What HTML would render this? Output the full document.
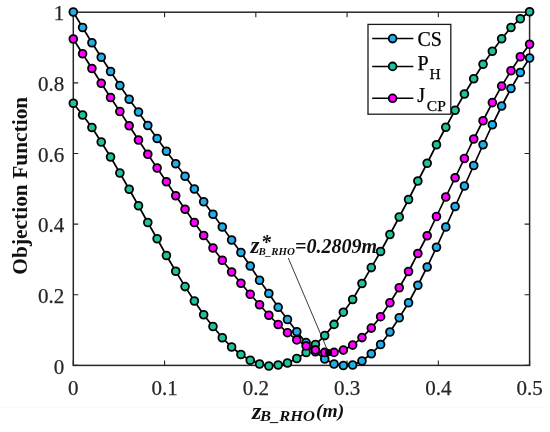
<!DOCTYPE html>
<html><head><meta charset="utf-8"><title>Objection Function</title>
<style>html,body{margin:0;padding:0;background:#fff}body{width:550px;height:432px;overflow:hidden;position:relative}</style></head>
<body>
<svg width="550" height="432" viewBox="0 0 550 432" style="position:absolute;left:0;top:0">
<rect width="550" height="432" fill="#fff"/>
<rect x="0" y="407.3" width="550" height="1" fill="#fafafa"/>
<rect x="73.3" y="12.2" width="456.3" height="353.2" fill="none" stroke="#262626" stroke-width="1.5"/>
<path d="M73.30 365.4v-5M73.30 12.2v5M73.3 365.40h5M529.6 365.40h-5M164.56 365.4v-5M164.56 12.2v5M73.3 294.76h5M529.6 294.76h-5M255.82 365.4v-5M255.82 12.2v5M73.3 224.12h5M529.6 224.12h-5M347.08 365.4v-5M347.08 12.2v5M73.3 153.48h5M529.6 153.48h-5M438.34 365.4v-5M438.34 12.2v5M73.3 82.84h5M529.6 82.84h-5M529.60 365.4v-5M529.60 12.2v5M73.3 12.20h5M529.6 12.20h-5" stroke="#262626" stroke-width="1.1" fill="none"/>
<g font-family="'Liberation Serif', serif" font-size="21" fill="#262626" stroke="#262626" stroke-width="0.25">
<text x="73.30" y="395" text-anchor="middle">0</text>
<text x="164.56" y="395" text-anchor="middle">0.1</text>
<text x="255.82" y="395" text-anchor="middle">0.2</text>
<text x="347.08" y="395" text-anchor="middle">0.3</text>
<text x="438.34" y="395" text-anchor="middle">0.4</text>
<text x="529.60" y="395" text-anchor="middle">0.5</text>
<text x="64.2" y="373.50" text-anchor="end">0</text>
<text x="64.2" y="302.86" text-anchor="end">0.2</text>
<text x="64.2" y="232.22" text-anchor="end">0.4</text>
<text x="64.2" y="161.58" text-anchor="end">0.6</text>
<text x="64.2" y="90.94" text-anchor="end">0.8</text>
<text x="64.2" y="20.30" text-anchor="end">1</text>
</g>
<text transform="translate(26.9 185.7) rotate(-90)" text-anchor="middle" textLength="178" lengthAdjust="spacingAndGlyphs" font-family="'Liberation Serif', serif" font-weight="bold" font-size="20" fill="#111">Objection Function</text>
<g font-family="'Liberation Serif', serif" font-weight="bold" font-style="italic" fill="#111"><text x="252" y="419" font-size="24">z</text><text x="260" y="421" font-size="14.8" textLength="55" lengthAdjust="spacingAndGlyphs">B_RHO</text><text x="316" y="416.5" font-size="19.5">(m)</text></g>
<polyline points="73.30,12.00 82.61,27.50 91.92,42.75 101.24,57.25 110.55,71.50 119.86,85.50 129.17,99.25 138.49,112.00 147.80,125.50 157.11,138.50 166.42,151.25 175.73,163.75 185.05,176.25 194.36,189.00 203.67,201.75 212.98,214.25 222.30,227.00 231.61,240.00 240.92,252.50 250.23,266.00 259.54,280.25 268.86,293.50 278.17,307.30 287.48,319.50 296.79,331.75 306.11,342.60 315.42,351.80 324.73,359.00 334.04,364.00 343.36,365.50 352.67,365.00 361.98,361.00 371.29,353.75 380.60,344.50 389.92,332.00 399.23,317.75 408.54,302.75 417.85,285.25 427.17,267.00 436.48,247.25 445.79,227.00 455.10,206.50 464.41,186.00 473.73,165.50 483.04,144.75 492.35,124.75 501.66,106.00 510.98,88.50 520.29,72.50 529.60,58.00" fill="none" stroke="#000" stroke-width="1.7"/>
<circle cx="73.30" cy="12.00" r="3.9" fill="#22aeea" stroke="#000" stroke-width="1.8"/><circle cx="82.61" cy="27.50" r="3.9" fill="#22aeea" stroke="#000" stroke-width="1.8"/><circle cx="91.92" cy="42.75" r="3.9" fill="#22aeea" stroke="#000" stroke-width="1.8"/><circle cx="101.24" cy="57.25" r="3.9" fill="#22aeea" stroke="#000" stroke-width="1.8"/><circle cx="110.55" cy="71.50" r="3.9" fill="#22aeea" stroke="#000" stroke-width="1.8"/><circle cx="119.86" cy="85.50" r="3.9" fill="#22aeea" stroke="#000" stroke-width="1.8"/><circle cx="129.17" cy="99.25" r="3.9" fill="#22aeea" stroke="#000" stroke-width="1.8"/><circle cx="138.49" cy="112.00" r="3.9" fill="#22aeea" stroke="#000" stroke-width="1.8"/><circle cx="147.80" cy="125.50" r="3.9" fill="#22aeea" stroke="#000" stroke-width="1.8"/><circle cx="157.11" cy="138.50" r="3.9" fill="#22aeea" stroke="#000" stroke-width="1.8"/><circle cx="166.42" cy="151.25" r="3.9" fill="#22aeea" stroke="#000" stroke-width="1.8"/><circle cx="175.73" cy="163.75" r="3.9" fill="#22aeea" stroke="#000" stroke-width="1.8"/><circle cx="185.05" cy="176.25" r="3.9" fill="#22aeea" stroke="#000" stroke-width="1.8"/><circle cx="194.36" cy="189.00" r="3.9" fill="#22aeea" stroke="#000" stroke-width="1.8"/><circle cx="203.67" cy="201.75" r="3.9" fill="#22aeea" stroke="#000" stroke-width="1.8"/><circle cx="212.98" cy="214.25" r="3.9" fill="#22aeea" stroke="#000" stroke-width="1.8"/><circle cx="222.30" cy="227.00" r="3.9" fill="#22aeea" stroke="#000" stroke-width="1.8"/><circle cx="231.61" cy="240.00" r="3.9" fill="#22aeea" stroke="#000" stroke-width="1.8"/><circle cx="240.92" cy="252.50" r="3.9" fill="#22aeea" stroke="#000" stroke-width="1.8"/><circle cx="250.23" cy="266.00" r="3.9" fill="#22aeea" stroke="#000" stroke-width="1.8"/><circle cx="259.54" cy="280.25" r="3.9" fill="#22aeea" stroke="#000" stroke-width="1.8"/><circle cx="268.86" cy="293.50" r="3.9" fill="#22aeea" stroke="#000" stroke-width="1.8"/><circle cx="278.17" cy="307.30" r="3.9" fill="#22aeea" stroke="#000" stroke-width="1.8"/><circle cx="287.48" cy="319.50" r="3.9" fill="#22aeea" stroke="#000" stroke-width="1.8"/><circle cx="296.79" cy="331.75" r="3.9" fill="#22aeea" stroke="#000" stroke-width="1.8"/><circle cx="306.11" cy="342.60" r="3.9" fill="#22aeea" stroke="#000" stroke-width="1.8"/><circle cx="315.42" cy="351.80" r="3.9" fill="#22aeea" stroke="#000" stroke-width="1.8"/><circle cx="324.73" cy="359.00" r="3.9" fill="#22aeea" stroke="#000" stroke-width="1.8"/><circle cx="334.04" cy="364.00" r="3.9" fill="#22aeea" stroke="#000" stroke-width="1.8"/><circle cx="343.36" cy="365.50" r="3.9" fill="#22aeea" stroke="#000" stroke-width="1.8"/><circle cx="352.67" cy="365.00" r="3.9" fill="#22aeea" stroke="#000" stroke-width="1.8"/><circle cx="361.98" cy="361.00" r="3.9" fill="#22aeea" stroke="#000" stroke-width="1.8"/><circle cx="371.29" cy="353.75" r="3.9" fill="#22aeea" stroke="#000" stroke-width="1.8"/><circle cx="380.60" cy="344.50" r="3.9" fill="#22aeea" stroke="#000" stroke-width="1.8"/><circle cx="389.92" cy="332.00" r="3.9" fill="#22aeea" stroke="#000" stroke-width="1.8"/><circle cx="399.23" cy="317.75" r="3.9" fill="#22aeea" stroke="#000" stroke-width="1.8"/><circle cx="408.54" cy="302.75" r="3.9" fill="#22aeea" stroke="#000" stroke-width="1.8"/><circle cx="417.85" cy="285.25" r="3.9" fill="#22aeea" stroke="#000" stroke-width="1.8"/><circle cx="427.17" cy="267.00" r="3.9" fill="#22aeea" stroke="#000" stroke-width="1.8"/><circle cx="436.48" cy="247.25" r="3.9" fill="#22aeea" stroke="#000" stroke-width="1.8"/><circle cx="445.79" cy="227.00" r="3.9" fill="#22aeea" stroke="#000" stroke-width="1.8"/><circle cx="455.10" cy="206.50" r="3.9" fill="#22aeea" stroke="#000" stroke-width="1.8"/><circle cx="464.41" cy="186.00" r="3.9" fill="#22aeea" stroke="#000" stroke-width="1.8"/><circle cx="473.73" cy="165.50" r="3.9" fill="#22aeea" stroke="#000" stroke-width="1.8"/><circle cx="483.04" cy="144.75" r="3.9" fill="#22aeea" stroke="#000" stroke-width="1.8"/><circle cx="492.35" cy="124.75" r="3.9" fill="#22aeea" stroke="#000" stroke-width="1.8"/><circle cx="501.66" cy="106.00" r="3.9" fill="#22aeea" stroke="#000" stroke-width="1.8"/><circle cx="510.98" cy="88.50" r="3.9" fill="#22aeea" stroke="#000" stroke-width="1.8"/><circle cx="520.29" cy="72.50" r="3.9" fill="#22aeea" stroke="#000" stroke-width="1.8"/><circle cx="529.60" cy="58.00" r="3.9" fill="#22aeea" stroke="#000" stroke-width="1.8"/>

<polyline points="73.30,103.25 82.61,115.00 91.92,127.50 101.24,142.00 110.55,157.00 119.86,173.00 129.17,189.25 138.49,205.75 147.80,222.50 157.11,238.75 166.42,255.50 175.73,271.25 185.05,286.60 194.36,301.00 203.67,314.75 212.98,326.50 222.30,337.75 231.61,347.00 240.92,354.50 250.23,360.25 259.54,364.00 268.86,366.00 278.17,365.00 287.48,363.00 296.79,358.50 306.11,352.50 315.42,344.50 324.73,335.60 334.04,324.40 343.36,312.20 352.67,299.50 361.98,283.50 371.29,267.60 380.60,251.50 389.92,234.50 399.23,217.00 408.54,199.50 417.85,181.00 427.17,163.25 436.48,144.75 445.79,127.25 455.10,110.25 464.41,94.00 473.73,78.75 483.04,64.25 492.35,51.25 501.66,38.75 510.98,27.50 520.29,18.75 529.60,11.75" fill="none" stroke="#000" stroke-width="1.7"/>
<circle cx="73.30" cy="103.25" r="3.9" fill="#1fc29b" stroke="#000" stroke-width="1.8"/><circle cx="82.61" cy="115.00" r="3.9" fill="#1fc29b" stroke="#000" stroke-width="1.8"/><circle cx="91.92" cy="127.50" r="3.9" fill="#1fc29b" stroke="#000" stroke-width="1.8"/><circle cx="101.24" cy="142.00" r="3.9" fill="#1fc29b" stroke="#000" stroke-width="1.8"/><circle cx="110.55" cy="157.00" r="3.9" fill="#1fc29b" stroke="#000" stroke-width="1.8"/><circle cx="119.86" cy="173.00" r="3.9" fill="#1fc29b" stroke="#000" stroke-width="1.8"/><circle cx="129.17" cy="189.25" r="3.9" fill="#1fc29b" stroke="#000" stroke-width="1.8"/><circle cx="138.49" cy="205.75" r="3.9" fill="#1fc29b" stroke="#000" stroke-width="1.8"/><circle cx="147.80" cy="222.50" r="3.9" fill="#1fc29b" stroke="#000" stroke-width="1.8"/><circle cx="157.11" cy="238.75" r="3.9" fill="#1fc29b" stroke="#000" stroke-width="1.8"/><circle cx="166.42" cy="255.50" r="3.9" fill="#1fc29b" stroke="#000" stroke-width="1.8"/><circle cx="175.73" cy="271.25" r="3.9" fill="#1fc29b" stroke="#000" stroke-width="1.8"/><circle cx="185.05" cy="286.60" r="3.9" fill="#1fc29b" stroke="#000" stroke-width="1.8"/><circle cx="194.36" cy="301.00" r="3.9" fill="#1fc29b" stroke="#000" stroke-width="1.8"/><circle cx="203.67" cy="314.75" r="3.9" fill="#1fc29b" stroke="#000" stroke-width="1.8"/><circle cx="212.98" cy="326.50" r="3.9" fill="#1fc29b" stroke="#000" stroke-width="1.8"/><circle cx="222.30" cy="337.75" r="3.9" fill="#1fc29b" stroke="#000" stroke-width="1.8"/><circle cx="231.61" cy="347.00" r="3.9" fill="#1fc29b" stroke="#000" stroke-width="1.8"/><circle cx="240.92" cy="354.50" r="3.9" fill="#1fc29b" stroke="#000" stroke-width="1.8"/><circle cx="250.23" cy="360.25" r="3.9" fill="#1fc29b" stroke="#000" stroke-width="1.8"/><circle cx="259.54" cy="364.00" r="3.9" fill="#1fc29b" stroke="#000" stroke-width="1.8"/><circle cx="268.86" cy="366.00" r="3.9" fill="#1fc29b" stroke="#000" stroke-width="1.8"/><circle cx="278.17" cy="365.00" r="3.9" fill="#1fc29b" stroke="#000" stroke-width="1.8"/><circle cx="287.48" cy="363.00" r="3.9" fill="#1fc29b" stroke="#000" stroke-width="1.8"/><circle cx="296.79" cy="358.50" r="3.9" fill="#1fc29b" stroke="#000" stroke-width="1.8"/><circle cx="306.11" cy="352.50" r="3.9" fill="#1fc29b" stroke="#000" stroke-width="1.8"/><circle cx="315.42" cy="344.50" r="3.9" fill="#1fc29b" stroke="#000" stroke-width="1.8"/><circle cx="324.73" cy="335.60" r="3.9" fill="#1fc29b" stroke="#000" stroke-width="1.8"/><circle cx="334.04" cy="324.40" r="3.9" fill="#1fc29b" stroke="#000" stroke-width="1.8"/><circle cx="343.36" cy="312.20" r="3.9" fill="#1fc29b" stroke="#000" stroke-width="1.8"/><circle cx="352.67" cy="299.50" r="3.9" fill="#1fc29b" stroke="#000" stroke-width="1.8"/><circle cx="361.98" cy="283.50" r="3.9" fill="#1fc29b" stroke="#000" stroke-width="1.8"/><circle cx="371.29" cy="267.60" r="3.9" fill="#1fc29b" stroke="#000" stroke-width="1.8"/><circle cx="380.60" cy="251.50" r="3.9" fill="#1fc29b" stroke="#000" stroke-width="1.8"/><circle cx="389.92" cy="234.50" r="3.9" fill="#1fc29b" stroke="#000" stroke-width="1.8"/><circle cx="399.23" cy="217.00" r="3.9" fill="#1fc29b" stroke="#000" stroke-width="1.8"/><circle cx="408.54" cy="199.50" r="3.9" fill="#1fc29b" stroke="#000" stroke-width="1.8"/><circle cx="417.85" cy="181.00" r="3.9" fill="#1fc29b" stroke="#000" stroke-width="1.8"/><circle cx="427.17" cy="163.25" r="3.9" fill="#1fc29b" stroke="#000" stroke-width="1.8"/><circle cx="436.48" cy="144.75" r="3.9" fill="#1fc29b" stroke="#000" stroke-width="1.8"/><circle cx="445.79" cy="127.25" r="3.9" fill="#1fc29b" stroke="#000" stroke-width="1.8"/><circle cx="455.10" cy="110.25" r="3.9" fill="#1fc29b" stroke="#000" stroke-width="1.8"/><circle cx="464.41" cy="94.00" r="3.9" fill="#1fc29b" stroke="#000" stroke-width="1.8"/><circle cx="473.73" cy="78.75" r="3.9" fill="#1fc29b" stroke="#000" stroke-width="1.8"/><circle cx="483.04" cy="64.25" r="3.9" fill="#1fc29b" stroke="#000" stroke-width="1.8"/><circle cx="492.35" cy="51.25" r="3.9" fill="#1fc29b" stroke="#000" stroke-width="1.8"/><circle cx="501.66" cy="38.75" r="3.9" fill="#1fc29b" stroke="#000" stroke-width="1.8"/><circle cx="510.98" cy="27.50" r="3.9" fill="#1fc29b" stroke="#000" stroke-width="1.8"/><circle cx="520.29" cy="18.75" r="3.9" fill="#1fc29b" stroke="#000" stroke-width="1.8"/><circle cx="529.60" cy="11.75" r="3.9" fill="#1fc29b" stroke="#000" stroke-width="1.8"/>

<polyline points="73.30,39.00 82.61,53.75 91.92,68.50 101.24,83.25 110.55,97.50 119.86,111.50 129.17,125.75 138.49,140.00 147.80,154.25 157.11,168.00 166.42,181.75 175.73,195.75 185.05,209.25 194.36,222.50 203.67,235.50 212.98,248.00 222.30,260.25 231.61,272.00 240.92,283.25 250.23,294.25 259.54,304.75 268.86,315.25 278.17,324.50 287.48,332.70 296.79,339.90 306.11,345.90 315.42,349.90 324.73,352.40 334.04,352.40 343.36,350.10 352.67,345.10 361.98,337.60 371.29,328.10 380.60,316.70 389.92,302.75 399.23,287.75 408.54,271.50 417.85,253.50 427.17,235.75 436.48,216.50 445.79,197.00 455.10,177.75 464.41,158.50 473.73,139.00 483.04,120.75 492.35,102.60 501.66,86.10 510.98,70.75 520.29,56.75 529.60,44.25" fill="none" stroke="#000" stroke-width="1.7"/>
<circle cx="73.30" cy="39.00" r="3.9" fill="#ff00ff" stroke="#000" stroke-width="1.8"/><circle cx="82.61" cy="53.75" r="3.9" fill="#ff00ff" stroke="#000" stroke-width="1.8"/><circle cx="91.92" cy="68.50" r="3.9" fill="#ff00ff" stroke="#000" stroke-width="1.8"/><circle cx="101.24" cy="83.25" r="3.9" fill="#ff00ff" stroke="#000" stroke-width="1.8"/><circle cx="110.55" cy="97.50" r="3.9" fill="#ff00ff" stroke="#000" stroke-width="1.8"/><circle cx="119.86" cy="111.50" r="3.9" fill="#ff00ff" stroke="#000" stroke-width="1.8"/><circle cx="129.17" cy="125.75" r="3.9" fill="#ff00ff" stroke="#000" stroke-width="1.8"/><circle cx="138.49" cy="140.00" r="3.9" fill="#ff00ff" stroke="#000" stroke-width="1.8"/><circle cx="147.80" cy="154.25" r="3.9" fill="#ff00ff" stroke="#000" stroke-width="1.8"/><circle cx="157.11" cy="168.00" r="3.9" fill="#ff00ff" stroke="#000" stroke-width="1.8"/><circle cx="166.42" cy="181.75" r="3.9" fill="#ff00ff" stroke="#000" stroke-width="1.8"/><circle cx="175.73" cy="195.75" r="3.9" fill="#ff00ff" stroke="#000" stroke-width="1.8"/><circle cx="185.05" cy="209.25" r="3.9" fill="#ff00ff" stroke="#000" stroke-width="1.8"/><circle cx="194.36" cy="222.50" r="3.9" fill="#ff00ff" stroke="#000" stroke-width="1.8"/><circle cx="203.67" cy="235.50" r="3.9" fill="#ff00ff" stroke="#000" stroke-width="1.8"/><circle cx="212.98" cy="248.00" r="3.9" fill="#ff00ff" stroke="#000" stroke-width="1.8"/><circle cx="222.30" cy="260.25" r="3.9" fill="#ff00ff" stroke="#000" stroke-width="1.8"/><circle cx="231.61" cy="272.00" r="3.9" fill="#ff00ff" stroke="#000" stroke-width="1.8"/><circle cx="240.92" cy="283.25" r="3.9" fill="#ff00ff" stroke="#000" stroke-width="1.8"/><circle cx="250.23" cy="294.25" r="3.9" fill="#ff00ff" stroke="#000" stroke-width="1.8"/><circle cx="259.54" cy="304.75" r="3.9" fill="#ff00ff" stroke="#000" stroke-width="1.8"/><circle cx="268.86" cy="315.25" r="3.9" fill="#ff00ff" stroke="#000" stroke-width="1.8"/><circle cx="278.17" cy="324.50" r="3.9" fill="#ff00ff" stroke="#000" stroke-width="1.8"/><circle cx="287.48" cy="332.70" r="3.9" fill="#ff00ff" stroke="#000" stroke-width="1.8"/><circle cx="296.79" cy="339.90" r="3.9" fill="#ff00ff" stroke="#000" stroke-width="1.8"/><circle cx="306.11" cy="345.90" r="3.9" fill="#ff00ff" stroke="#000" stroke-width="1.8"/><circle cx="315.42" cy="349.90" r="3.9" fill="#ff00ff" stroke="#000" stroke-width="1.8"/><circle cx="324.73" cy="352.40" r="3.9" fill="#ff00ff" stroke="#000" stroke-width="1.8"/><circle cx="334.04" cy="352.40" r="3.9" fill="#ff00ff" stroke="#000" stroke-width="1.8"/><circle cx="343.36" cy="350.10" r="3.9" fill="#ff00ff" stroke="#000" stroke-width="1.8"/><circle cx="352.67" cy="345.10" r="3.9" fill="#ff00ff" stroke="#000" stroke-width="1.8"/><circle cx="361.98" cy="337.60" r="3.9" fill="#ff00ff" stroke="#000" stroke-width="1.8"/><circle cx="371.29" cy="328.10" r="3.9" fill="#ff00ff" stroke="#000" stroke-width="1.8"/><circle cx="380.60" cy="316.70" r="3.9" fill="#ff00ff" stroke="#000" stroke-width="1.8"/><circle cx="389.92" cy="302.75" r="3.9" fill="#ff00ff" stroke="#000" stroke-width="1.8"/><circle cx="399.23" cy="287.75" r="3.9" fill="#ff00ff" stroke="#000" stroke-width="1.8"/><circle cx="408.54" cy="271.50" r="3.9" fill="#ff00ff" stroke="#000" stroke-width="1.8"/><circle cx="417.85" cy="253.50" r="3.9" fill="#ff00ff" stroke="#000" stroke-width="1.8"/><circle cx="427.17" cy="235.75" r="3.9" fill="#ff00ff" stroke="#000" stroke-width="1.8"/><circle cx="436.48" cy="216.50" r="3.9" fill="#ff00ff" stroke="#000" stroke-width="1.8"/><circle cx="445.79" cy="197.00" r="3.9" fill="#ff00ff" stroke="#000" stroke-width="1.8"/><circle cx="455.10" cy="177.75" r="3.9" fill="#ff00ff" stroke="#000" stroke-width="1.8"/><circle cx="464.41" cy="158.50" r="3.9" fill="#ff00ff" stroke="#000" stroke-width="1.8"/><circle cx="473.73" cy="139.00" r="3.9" fill="#ff00ff" stroke="#000" stroke-width="1.8"/><circle cx="483.04" cy="120.75" r="3.9" fill="#ff00ff" stroke="#000" stroke-width="1.8"/><circle cx="492.35" cy="102.60" r="3.9" fill="#ff00ff" stroke="#000" stroke-width="1.8"/><circle cx="501.66" cy="86.10" r="3.9" fill="#ff00ff" stroke="#000" stroke-width="1.8"/><circle cx="510.98" cy="70.75" r="3.9" fill="#ff00ff" stroke="#000" stroke-width="1.8"/><circle cx="520.29" cy="56.75" r="3.9" fill="#ff00ff" stroke="#000" stroke-width="1.8"/><circle cx="529.60" cy="44.25" r="3.9" fill="#ff00ff" stroke="#000" stroke-width="1.8"/>

<line x1="288.3" y1="258" x2="328.5" y2="352.6" stroke="#222" stroke-width="0.9"/>
<circle cx="328.5" cy="352.6" r="3.6" fill="#000"/>
<g font-family="'Liberation Serif', serif" font-weight="bold" font-style="italic" fill="#111"><text x="250.5" y="253" font-size="23">z</text><text x="261" y="248.8" font-size="20">*</text><text x="258.5" y="255.1" font-size="10" textLength="36.4" lengthAdjust="spacingAndGlyphs">B_RHO</text><text x="295" y="253" font-size="20">=0.2809m</text></g>
<rect x="368" y="24.4" width="82.8" height="89.8" fill="#fff" stroke="#1a1a1a" stroke-width="1.3"/>
<line x1="372.2" y1="38.6" x2="413.3" y2="38.6" stroke="#000" stroke-width="1.5"/>
<circle cx="392.6" cy="38.6" r="3.9" fill="#22aeea" stroke="#000" stroke-width="1.8"/>
<line x1="372.2" y1="66.4" x2="413.3" y2="66.4" stroke="#000" stroke-width="1.5"/>
<circle cx="392.6" cy="66.4" r="3.9" fill="#1fc29b" stroke="#000" stroke-width="1.8"/>
<line x1="372.2" y1="98.3" x2="413.3" y2="98.3" stroke="#000" stroke-width="1.5"/>
<circle cx="392.6" cy="98.3" r="3.9" fill="#ff00ff" stroke="#000" stroke-width="1.8"/>
<g font-family="'Liberation Serif', serif" fill="#000" stroke="#000" stroke-width="0.25"><text x="417.5" y="46.3" font-size="20">CS</text><text x="417.5" y="70.3" font-size="20">P</text><text x="429.6" y="79" font-size="15.5">H</text><text x="417.3" y="101.5" font-size="20">J</text><text x="426.8" y="111" font-size="15.5">CP</text></g>
</svg>
</body></html>
